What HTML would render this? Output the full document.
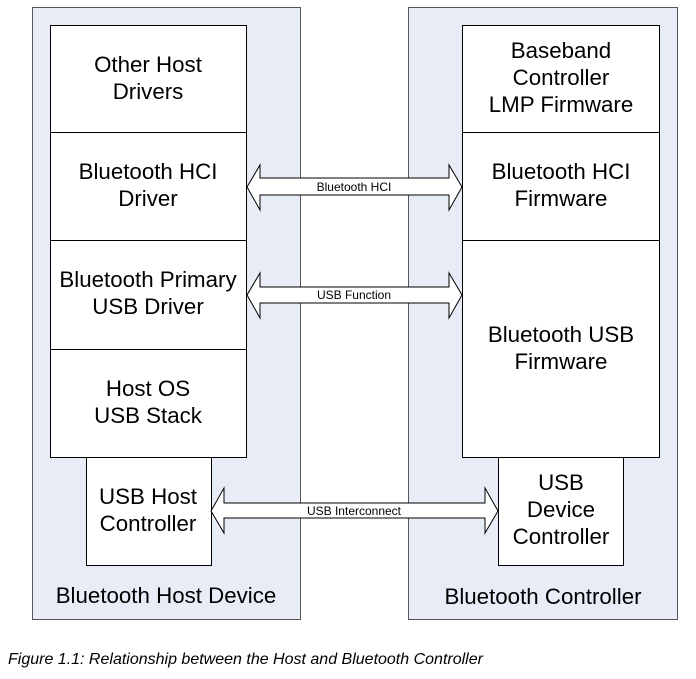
<!DOCTYPE html>
<html><head><style>
body{margin:0;background:#fff;width:696px;height:674px;overflow:hidden;font-family:"Liberation Sans",sans-serif}
</style></head><body>
<svg width="696" height="674" xmlns="http://www.w3.org/2000/svg" font-family="Liberation Sans, sans-serif">
<rect x="32.5" y="7.5" width="268" height="612" fill="#e8ecf6" stroke="#555" stroke-width="1"/>
<rect x="408.5" y="7.5" width="269" height="612" fill="#e8ecf6" stroke="#555" stroke-width="1"/>
<g fill="#fff" stroke="#000" stroke-width="1">
<rect x="50.5" y="25.5" width="196" height="107"/>
<rect x="50.5" y="132.5" width="196" height="108"/>
<rect x="50.5" y="240.5" width="196" height="109"/>
<rect x="50.5" y="349.5" width="196" height="108"/>
<rect x="86.5" y="457.5" width="125" height="108"/>
<rect x="462.5" y="25.5" width="197" height="107"/>
<rect x="462.5" y="132.5" width="197" height="108"/>
<rect x="462.5" y="240.5" width="197" height="217"/>
<rect x="498.5" y="457.5" width="125" height="108"/>
<path d="M247 187 L260 165 L260 178 L449 178 L449 165 L462 187 L449 210 L449 195 L260 195 L260 210 Z"/>
<path d="M247 295 L260 273 L260 287 L449 287 L449 273 L462 295 L449 318 L449 303 L260 303 L260 318 Z"/>
<path d="M211 511 L224 488 L224 503 L485 503 L485 488 L498 511 L485 533 L485 518 L224 518 L224 533 Z"/>
</g>
<g font-size="22.3" text-anchor="middle" fill="#000">
<text x="148" y="72">Other Host</text><text x="148" y="99">Drivers</text>
<text x="148" y="179">Bluetooth HCI</text><text x="148" y="206">Driver</text>
<text x="148" y="287">Bluetooth Primary</text><text x="148" y="314">USB Driver</text>
<text x="148" y="396">Host OS</text><text x="148" y="423">USB Stack</text>
<text x="148" y="504">USB Host</text><text x="148" y="531">Controller</text>
<text x="166" y="603">Bluetooth Host Device</text>
<text x="561" y="58">Baseband</text><text x="561" y="85">Controller</text><text x="561" y="112">LMP Firmware</text>
<text x="561" y="179">Bluetooth HCI</text><text x="561" y="206">Firmware</text>
<text x="561" y="342">Bluetooth USB</text><text x="561" y="369">Firmware</text>
<text x="561" y="490">USB</text><text x="561" y="517">Device</text><text x="561" y="544">Controller</text>
<text x="543" y="604">Bluetooth Controller</text>
</g>
<g font-size="12" text-anchor="middle">
<text x="354" y="191">Bluetooth HCI</text>
<text x="354" y="299">USB Function</text>
<text x="354" y="515">USB Interconnect</text>
</g>
<text x="8" y="664" font-size="16" font-style="italic">Figure 1.1:  Relationship between the Host and Bluetooth Controller</text>
</svg>
</body></html>
